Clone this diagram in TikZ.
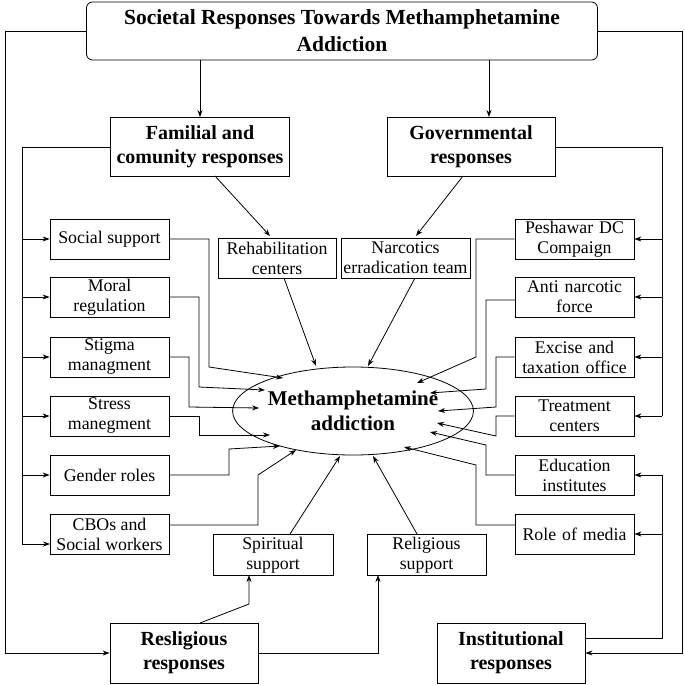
\documentclass[tikz,border=0pt]{standalone}
\usepackage{fontspec}
\setmainfont{Liberation Serif}
\usetikzlibrary{arrows.meta,shapes.geometric}
\begin{document}
\begin{tikzpicture}[x=1pt,y=-1pt,
  box/.style={draw,thick,align=center,font=\fontsize{17.8}{20}\selectfont,inner sep=0pt},
  head/.style={draw,thick,align=center,font=\fontsize{20}{24}\selectfont\bfseries,inner sep=0pt},
  arr/.style={-{Stealth[length=7pt,width=5pt]},thick}]
  \useasboundingbox (0,0) rectangle (685,685);

  % top and group boxes
  \node[head,rounded corners=6pt,minimum width=511,minimum height=58,font=\fontsize{21.5}{27}\selectfont\bfseries] (top) at (342,31) {Societal Responses Towards Methamphetamine\\Addiction};
  \node[head,minimum width=179,minimum height=59] (fam) at (200,147) {Familial and\\comunity responses};
  \node[head,minimum width=168,minimum height=59] (gov) at (471,147) {Governmental\\responses};
  \node[head,minimum width=148,minimum height=60] (rel) at (184,653) {Resligious\\responses};
  \node[head,minimum width=148,minimum height=60] (ins) at (511,653) {Institutional\\responses};

  \node[draw,thick,ellipse,minimum width=190,minimum height=88,align=center,inner sep=0pt,
        font=\fontsize{21}{25}\selectfont\bfseries] (meth) at (353,411) {Methamphetamine\\addiction};

  % left boxes
  \foreach \n/\y/\t in {ss/239/Social support, mr/297/Moral\\regulation, sm/357/Stigma\\managment,
                        st/416/Stress\\manegment, gr/475/Gender roles, cb/534/CBOs and\\Social workers}
    \node[box,minimum width=119,minimum height=40] (\n) at (109.5,\y) {\t};
  % right boxes
  \foreach \n/\y/\t in {pd/239/Peshawar DC\\Compaign, an/297/Anti narcotic\\force, ex/357/Excise and\\taxation office,
                        tc/416/Treatment\\centers, ed/475/Education\\institutes, rm/534/Role of media}
    \node[box,minimum width=119,minimum height=40,text width=117] (\n) at (574.5,\y) {\t};
  \node[box,minimum width=118,minimum height=40] (rc) at (277,258) {Rehabilitation\\centers};
  \node[box,minimum width=129,minimum height=40] (nt) at (405.5,258) {Narcotics\\erradication team};
  \node[box,minimum width=120,minimum height=41] (sp) at (273,555) {Spiritual\\support};
  \node[box,minimum width=119,minimum height=41] (rs) at (426.5,555) {Religious\\support};

  % from top
  \draw[arr] (fam.north |- top.south) -- (fam.north);
  \draw[arr] (489,60) -- (489,117);
  \draw[arr] (top.west) -- (5,31) -- (5,653) -- (rel.west);
  \draw[arr] (top.east) -- (682,31) -- (682,653) -- (ins.east);

  % familial branch
  \draw[thick] (fam.west) -- (22,147) -- (22,544);
  \foreach \n in {ss,mr,sm,st,gr} \draw[arr] (\n.west) ++(-28,0) -- (\n.west);
  \draw[arr] (22,544) -- (50,544);
  \draw[arr] (215,176) -- (270,236);
  \draw[arr] (284,278) -- (316,366);

  % governmental branch
  \draw[thick] (gov.east) -- (662,147) -- (662,416);
  \foreach \n in {pd,an,ex,tc} \draw[arr] (\n.east) ++(28,0) -- (\n.east);
  \draw[arr] (463,176) -- (416,236);
  \draw[arr] (415,278) -- (368,366);

  % institutional branch
  \draw[thick] (585,638) -- (662,638) -- (662,475);
  \foreach \n in {ed,rm} \draw[arr] (\n.east) ++(28,0) -- (\n.east);

  % religious branch
  \draw[arr] (200,623) -- (249,604) -- (249,575);
  \draw[arr] (rel.east) -- (378,653) -- (378,575);
  \draw[arr] (290,534) -- (340,456);
  \draw[arr] (417,534) -- (373,456);

  % into the ellipse, left
  \draw[arr] (ss.east) -- (209,239) -- (209,367) -- (283,378);
  \draw[arr] (mr.east) -- (199,297) -- (199,387) -- (265,390);
  \draw[arr] (sm.east) -- (189,357) -- (189,407) -- (259,408);
  \draw[arr] (st.east) -- (199,416) -- (199,435) -- (270,435);
  \draw[arr] (gr.east) -- (229,475) -- (229,449) -- (280,446);
  \draw[arr] (169,525) -- (258,525) -- (258,475) -- (296,450);

  % into the ellipse, right
  \draw[arr] (pd.west) -- (476,239) -- (476,357) -- (417,383);
  \draw[arr] (515,300) -- (486,300) -- (486,389) -- (430,393);
  \draw[arr] (ex.west) -- (496,357) -- (496,407) -- (438,411);
  \draw[arr] (tc.west) -- (496,416) -- (496,436) -- (437,423);
  \draw[arr] (ed.west) -- (486,475) -- (486,445) -- (430,432);
  \draw[arr] (515,525) -- (476,525) -- (476,465) -- (404,447);
\end{tikzpicture}
\end{document}
